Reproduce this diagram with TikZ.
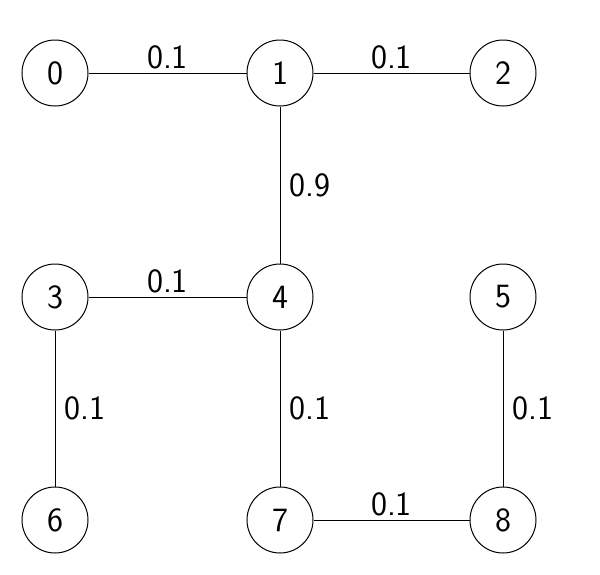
\documentclass[tikz,border=0pt]{standalone}
\usepackage{fontspec}
\usetikzlibrary{positioning}
\tikzset{every picture/.style={line width=1pt}}
\tikzset{vert/.style={draw,circle,minimum size=66pt,inner sep=0pt,font=\fontsize{34}{40}\selectfont\sffamily},
 wlab/.style={font=\fontsize{34}{40}\selectfont\sffamily}}
\begin{document}
\begin{tikzpicture}[x=1pt,y=-1pt]
\useasboundingbox (0,0) rectangle (600,574);
% vertices
\node[vert] (n0) at (55,73) {0};
\node[vert] (n1) at (280,73) {1};
\node[vert] (n2) at (503,73) {2};
\node[vert] (n3) at (55,297) {3};
\node[vert] (n4) at (280,297) {4};
\node[vert] (n5) at (503,297) {5};
\node[vert] (n6) at (55,520) {6};
\node[vert] (n7) at (280,520) {7};
\node[vert] (n8) at (503,520) {8};
% edges
\draw (n0) -- node[wlab,above=0pt] {0.1} (n1);
\draw (n1) -- node[wlab,above=0pt] {0.1} (n2);
\draw (n1) -- node[wlab,right=6pt] {0.9} (n4);
\draw (n3) -- node[wlab,above=0pt] {0.1} (n4);
\draw (n3) -- node[wlab,right=6pt] {0.1} (n6);
\draw (n4) -- node[wlab,right=6pt] {0.1} (n7);
\draw (n5) -- node[wlab,right=6pt] {0.1} (n8);
\draw (n7) -- node[wlab,above=0pt] {0.1} (n8);
\end{tikzpicture}
\end{document}
